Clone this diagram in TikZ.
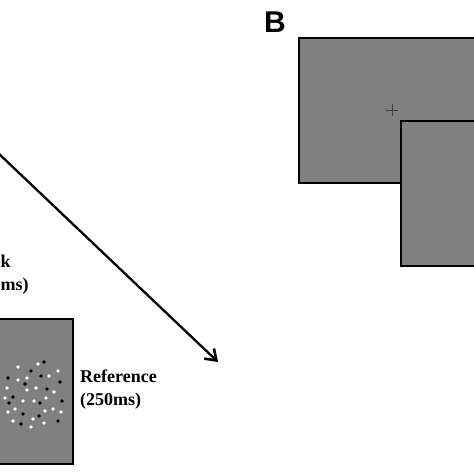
\documentclass[tikz,border=0pt]{standalone}
\usepackage{fontspec}
\setmainfont{Liberation Serif}
\setsansfont{Liberation Sans}
\usetikzlibrary{arrows.meta}
\definecolor{screengray}{RGB}{128,128,128}
\tikzset{
  screen/.style={fill=screengray,draw=black,line width=2pt},
  lbl/.style={font=\bfseries\fontsize{18}{22}\selectfont,inner sep=0pt},
  wdot/.style={fill=white},
  bdot/.style={fill=black}
}
\begin{document}
\begin{tikzpicture}[x=1pt,y=-1pt]
\useasboundingbox (0,0) rectangle (474,474);
\clip (0,0) rectangle (474,474);
\draw[screen] (-10,319) rectangle (73,464);
\foreach \x/\y in {38/364,18/367,58/371,49/376,27/378,18/380,7/388,36/388,27/390,54/392,
  5/398,23/401,34/401,46/398,15/409,8/412,53/409,45/411,61/412,33/419,13/421,44/423,31/427}
  \fill[wdot] (\x,\y) circle (1.9);
\foreach \x/\y in {44/362,31/371,41/376,8/378,60/382,25/384,47/389,13/397,62/401,9/403,
  40/403,23/414,39/416,58/421,21/424}
  \fill[bdot] (\x,\y) circle (1.9);
\node[lbl,anchor=base west] (ref) at (80,382) {Reference};
\node[lbl,anchor=base west] (refdur) at (80,405) {(250ms)};
\node[lbl,anchor=base west] (mask) at (0.5,267) {k};
\node[lbl,anchor=base west] (maskdur) at (0.5,290) {ms)};
\coordinate (tail) at (-3,152);
\coordinate (head) at (218,362);
\draw[line width=2.3pt,-{Straight Barb[length=10pt,width=14pt,line width=2.6pt]}] (tail) -- (head);
\node[font=\sffamily\bfseries\fontsize{30}{30}\selectfont,inner sep=0pt,anchor=base west] (B) at (264,32) {B};
\draw[screen] (299,38) rectangle (490,183);
\draw[line width=0.8pt,black!75] (386,110) -- (398,110) (392,104) -- (392,116);
\draw[screen] (401,121) rectangle (490,266);
\end{tikzpicture}
\end{document}
